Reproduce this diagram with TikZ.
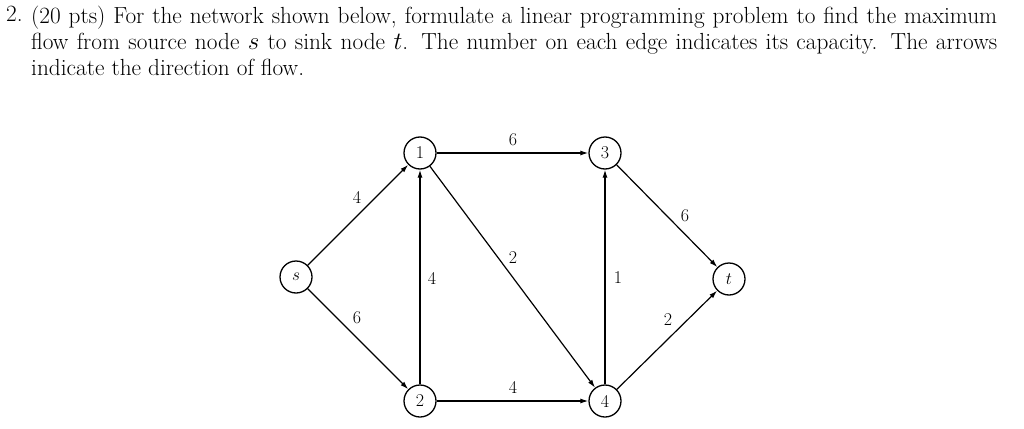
\documentclass[tikz,border=0pt]{standalone}
\usetikzlibrary{arrows.meta}
\begin{document}
\begin{tikzpicture}[x=1pt,y=-1pt,
  vtx/.style={circle,draw,line width=1.3pt,minimum size=32pt,inner sep=0pt,font=\fontsize{18}{20}\selectfont},
  edge/.style={line width=1.2pt,-{Latex[length=8pt,width=5pt]}},
  lab/.style={font=\fontsize{18}{20}\selectfont}]
\useasboundingbox (0,0) rectangle (1024,428);
\node[anchor=north west,inner sep=0pt,font=\fontsize{23.3}{26}\selectfont] (num) at (6,6) {2.};
\node[anchor=north west,inner sep=0pt,text width=966pt,align=justify,font=\fontsize{23.3}{26}\selectfont] (txt) at (31,6)
{(20 pts) For the network shown below, formulate a linear programming problem to find the maximum flow from source node $s$ to sink node $t$. The number on each edge indicates its capacity. The arrows indicate the direction of flow.};
\node[vtx] (s) at (296,277) {$s$};
\node[vtx] (n1) at (420,153) {1};
\node[vtx] (n3) at (605,153) {3};
\node[vtx] (t) at (729,279) {$t$};
\node[vtx] (n2) at (420,401) {2};
\node[vtx] (n4) at (605,401) {4};
\draw[edge] (s) -- (n1);
\draw[edge] (s) -- (n2);
\draw[edge] (n1) -- (n3);
\draw[edge] (n2) -- (n1);
\draw[edge] (n1) -- (n4);
\draw[edge] (n2) -- (n4);
\draw[edge] (n4) -- (n3);
\draw[edge] (n3) -- (t);
\draw[edge] (n4) -- (t);
\node[lab] (l1) at (357,197) {4};
\node[lab] (l2) at (357,318) {6};
\node[lab] (l3) at (513,140) {6};
\node[lab] (l4) at (432,278) {4};
\node[lab] (l5) at (513,258) {2};
\node[lab] (l6) at (618,278) {1};
\node[lab] (l7) at (685,216) {6};
\node[lab] (l8) at (668,320) {2};
\node[lab] (l9) at (513,387) {4};
\end{tikzpicture}
\end{document}
